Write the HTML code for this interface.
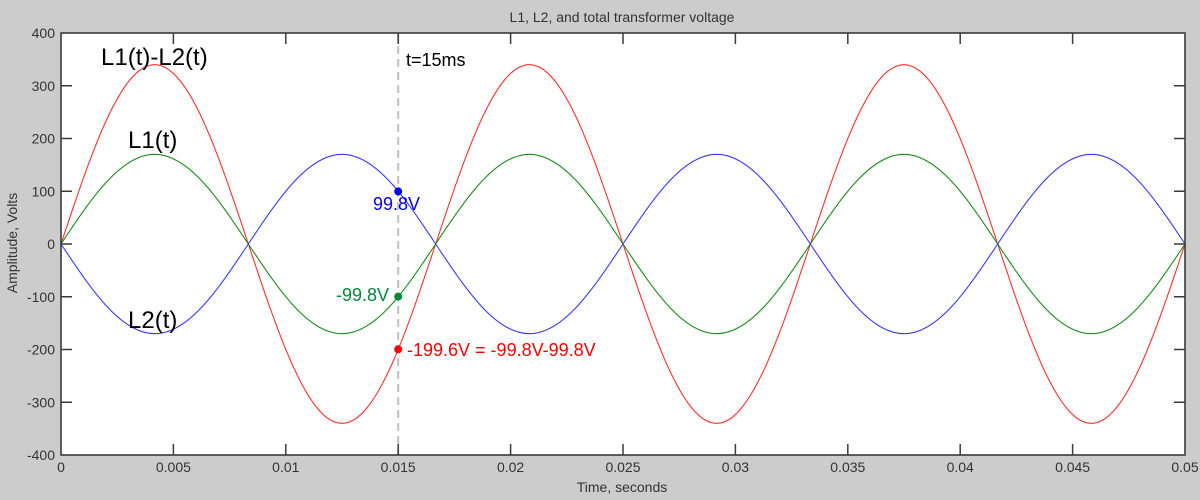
<!DOCTYPE html>
<html>
<head>
<meta charset="utf-8">
<style>
html,body{margin:0;padding:0;background:#cccccc;}
svg{display:block;font-family:"Liberation Sans",Arial,sans-serif;}
</style>
</head>
<body>
<svg width="1200" height="500" viewBox="0 0 1200 500" xmlns="http://www.w3.org/2000/svg">
<rect x="0" y="0" width="1200" height="500" fill="#cccccc"/>
<rect x="61" y="33" width="1124" height="422" fill="#ffffff"/>

<!-- dashed marker line -->
<line x1="398.2" y1="33" x2="398.2" y2="455" stroke="#c0c0c0" stroke-width="2" stroke-dasharray="8,5"/>

<!-- red: L1-L2 -->
<path fill="none" stroke="#ff3030" stroke-width="1.1" d="M61,244
c30.55,-91.88 59.77,-179.35 93.667,-179.35 c33.9,0 63.117,87.47 93.667,179.35 c30.55,91.88 59.77,179.35 93.667,179.35 c33.9,0 63.117,-87.47 93.667,-179.35
c30.55,-91.88 59.77,-179.35 93.667,-179.35 c33.9,0 63.117,87.47 93.667,179.35 c30.55,91.88 59.77,179.35 93.667,179.35 c33.9,0 63.117,-87.47 93.667,-179.35
c30.55,-91.88 59.77,-179.35 93.667,-179.35 c33.9,0 63.117,87.47 93.667,179.35 c30.55,91.88 59.77,179.35 93.667,179.35 c33.9,0 63.117,-87.47 93.667,-179.35"/>

<!-- green: L1 -->
<path fill="none" stroke="#1a8c1a" stroke-width="1.1" d="M61,244
c30.55,-45.94 59.77,-89.675 93.667,-89.675 c33.9,0 63.117,43.73 93.667,89.675 c30.55,45.94 59.77,89.675 93.667,89.675 c33.9,0 63.117,-43.73 93.667,-89.675
c30.55,-45.94 59.77,-89.675 93.667,-89.675 c33.9,0 63.117,43.73 93.667,89.675 c30.55,45.94 59.77,89.675 93.667,89.675 c33.9,0 63.117,-43.73 93.667,-89.675
c30.55,-45.94 59.77,-89.675 93.667,-89.675 c33.9,0 63.117,43.73 93.667,89.675 c30.55,45.94 59.77,89.675 93.667,89.675 c33.9,0 63.117,-43.73 93.667,-89.675"/>

<!-- blue: L2 -->
<path fill="none" stroke="#3838ff" stroke-width="1.1" d="M61,244
c30.55,45.94 59.77,89.675 93.667,89.675 c33.9,0 63.117,-43.73 93.667,-89.675 c30.55,-45.94 59.77,-89.675 93.667,-89.675 c33.9,0 63.117,43.73 93.667,89.675
c30.55,45.94 59.77,89.675 93.667,89.675 c33.9,0 63.117,-43.73 93.667,-89.675 c30.55,-45.94 59.77,-89.675 93.667,-89.675 c33.9,0 63.117,43.73 93.667,89.675
c30.55,45.94 59.77,89.675 93.667,89.675 c33.9,0 63.117,-43.73 93.667,-89.675 c30.55,-45.94 59.77,-89.675 93.667,-89.675 c33.9,0 63.117,43.73 93.667,89.675"/>

<!-- dots -->
<circle cx="398.2" cy="191.4" r="4" fill="#0000ff"/>
<circle cx="398.2" cy="296.6" r="4" fill="#008a3a"/>
<circle cx="398.2" cy="349.3" r="4" fill="#ff0000"/>

<!-- annotations -->
<text x="373" y="210" font-size="18" fill="#0000ff">99.8V</text>
<text x="336" y="301" font-size="18" fill="#008a3a">-99.8V</text>
<text x="407" y="356" font-size="18" fill="#ff0000">-199.6V = -99.8V-99.8V</text>
<text x="406" y="66" font-size="18" fill="#000000">t=15ms</text>
<text x="101" y="65" font-size="24" fill="#000000">L1(t)-L2(t)</text>
<text x="128" y="148" font-size="24" fill="#000000">L1(t)</text>
<text x="128" y="328" font-size="24" fill="#000000">L2(t)</text>

<!-- frame -->
<rect x="61" y="33" width="1124" height="422" fill="none" stroke="#3a3a3a" stroke-width="1.6"/>

<!-- ticks -->
<g stroke="#3a3a3a" stroke-width="1.5">
<line x1="173.4" y1="455" x2="173.4" y2="444"/><line x1="173.4" y1="33" x2="173.4" y2="44"/>
<line x1="285.8" y1="455" x2="285.8" y2="444"/><line x1="285.8" y1="33" x2="285.8" y2="44"/>
<line x1="398.2" y1="455" x2="398.2" y2="444"/><line x1="398.2" y1="33" x2="398.2" y2="44"/>
<line x1="510.6" y1="455" x2="510.6" y2="444"/><line x1="510.6" y1="33" x2="510.6" y2="44"/>
<line x1="623" y1="455" x2="623" y2="444"/><line x1="623" y1="33" x2="623" y2="44"/>
<line x1="735.4" y1="455" x2="735.4" y2="444"/><line x1="735.4" y1="33" x2="735.4" y2="44"/>
<line x1="847.8" y1="455" x2="847.8" y2="444"/><line x1="847.8" y1="33" x2="847.8" y2="44"/>
<line x1="960.2" y1="455" x2="960.2" y2="444"/><line x1="960.2" y1="33" x2="960.2" y2="44"/>
<line x1="1072.6" y1="455" x2="1072.6" y2="444"/><line x1="1072.6" y1="33" x2="1072.6" y2="44"/>

<line x1="61" y1="85.75" x2="72" y2="85.75"/><line x1="1185" y1="85.75" x2="1174" y2="85.75"/>
<line x1="61" y1="138.5" x2="72" y2="138.5"/><line x1="1185" y1="138.5" x2="1174" y2="138.5"/>
<line x1="61" y1="191.25" x2="72" y2="191.25"/><line x1="1185" y1="191.25" x2="1174" y2="191.25"/>
<line x1="61" y1="244" x2="72" y2="244"/><line x1="1185" y1="244" x2="1174" y2="244"/>
<line x1="61" y1="296.75" x2="72" y2="296.75"/><line x1="1185" y1="296.75" x2="1174" y2="296.75"/>
<line x1="61" y1="349.5" x2="72" y2="349.5"/><line x1="1185" y1="349.5" x2="1174" y2="349.5"/>
<line x1="61" y1="402.25" x2="72" y2="402.25"/><line x1="1185" y1="402.25" x2="1174" y2="402.25"/>
</g>

<!-- y tick labels -->
<g font-size="14" fill="#333333" text-anchor="end">
<text x="55" y="38">400</text>
<text x="55" y="90.75">300</text>
<text x="55" y="143.5">200</text>
<text x="55" y="196.25">100</text>
<text x="55" y="249">0</text>
<text x="55" y="301.75">-100</text>
<text x="55" y="354.5">-200</text>
<text x="55" y="407.25">-300</text>
<text x="55" y="460">-400</text>
</g>

<!-- x tick labels -->
<g font-size="14" fill="#333333" text-anchor="middle">
<text x="61" y="472">0</text>
<text x="173.4" y="472">0.005</text>
<text x="285.8" y="472">0.01</text>
<text x="398.2" y="472">0.015</text>
<text x="510.6" y="472">0.02</text>
<text x="623" y="472">0.025</text>
<text x="735.4" y="472">0.03</text>
<text x="847.8" y="472">0.035</text>
<text x="960.2" y="472">0.04</text>
<text x="1072.6" y="472">0.045</text>
<text x="1185" y="472">0.05</text>
</g>

<text x="622" y="22" font-size="14" fill="#333333" text-anchor="middle">L1, L2, and total transformer voltage</text>
<text x="622" y="492" font-size="14" fill="#333333" text-anchor="middle">Time, seconds</text>
<text x="0" y="0" font-size="14" fill="#333333" text-anchor="middle" transform="translate(17,243) rotate(-90)">Amplitude, Volts</text>
</svg>
</body>
</html>
